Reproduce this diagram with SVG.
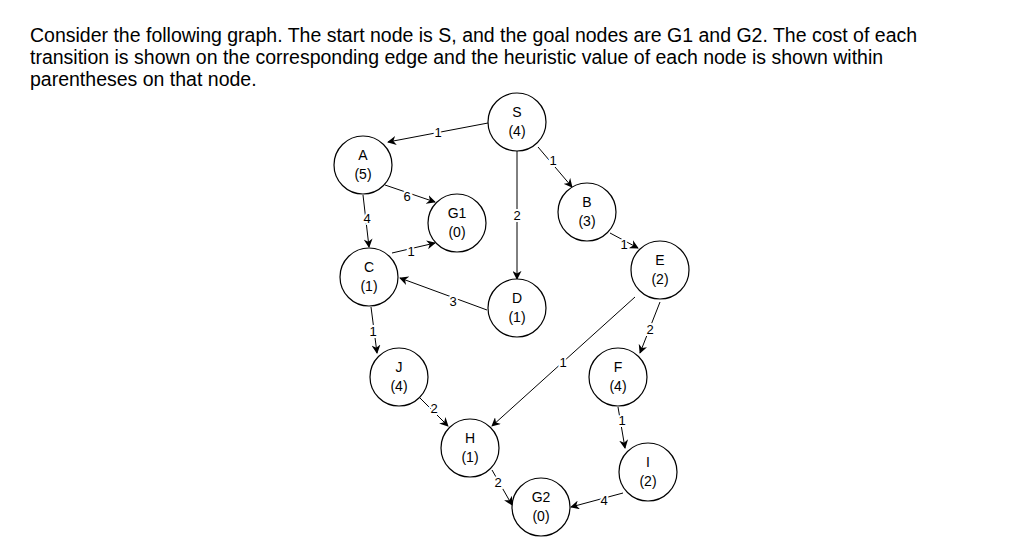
<svg xmlns="http://www.w3.org/2000/svg" width="1024" height="551" viewBox="0 0 1024 551">
<style>
.t{font-family:"Liberation Sans",Arial,sans-serif;font-size:19.5px;fill:#000}
.n circle{fill:#fff;stroke:#000;stroke-width:1.2}
.n text{font-family:"Liberation Sans",Arial,sans-serif;font-size:14px;text-anchor:middle;fill:#000}
#edges line{stroke:#000;stroke-width:1}
.l{font-family:"Liberation Sans",Arial,sans-serif;font-size:13px;text-anchor:middle;fill:#000;stroke:#fff;stroke-width:4;paint-order:stroke}
</style>
<defs><marker id="ar" viewBox="0 0 10 10" refX="9" refY="5" markerWidth="9" markerHeight="9" markerUnits="userSpaceOnUse" orient="auto"><path d="M0,0 L10,5 L0,10 L3,5 z" fill="#000"/></marker></defs>
<rect width="1024" height="551" fill="#fff"/>
<text class="t" x="30" y="42">Consider the following graph. The start node is S, and the goal nodes are G1 and G2. The cost of each</text>
<text class="t" x="30" y="64">transition is shown on the corresponding edge and the heuristic value of each node is shown within</text>
<text class="t" x="30" y="86">parentheses on that node.</text>
<g id="edges">
<line x1="488" y1="123" x2="388" y2="142" marker-end="url(#ar)"/>
<line x1="538" y1="147" x2="572" y2="187" marker-end="url(#ar)"/>
<line x1="517" y1="151" x2="517" y2="279" marker-end="url(#ar)"/>
<line x1="363" y1="195" x2="369" y2="247" marker-end="url(#ar)"/>
<line x1="385" y1="185" x2="435" y2="202" marker-end="url(#ar)"/>
<line x1="392" y1="253" x2="435" y2="243" marker-end="url(#ar)"/>
<line x1="487" y1="310" x2="400" y2="278" marker-end="url(#ar)"/>
<line x1="610" y1="233" x2="638" y2="248" marker-end="url(#ar)"/>
<line x1="660" y1="302" x2="640" y2="353" marker-end="url(#ar)"/>
<line x1="635" y1="297" x2="492" y2="426" marker-end="url(#ar)"/>
<line x1="371" y1="307" x2="377" y2="353" marker-end="url(#ar)"/>
<line x1="420" y1="398" x2="448" y2="426" marker-end="url(#ar)"/>
<line x1="618" y1="407" x2="625" y2="448" marker-end="url(#ar)"/>
<line x1="492" y1="470" x2="512" y2="505" marker-end="url(#ar)"/>
<line x1="623" y1="493" x2="571" y2="507" marker-end="url(#ar)"/>
<text class="l" x="438" y="137">1</text>
<text class="l" x="553" y="165">1</text>
<text class="l" x="517" y="220">2</text>
<text class="l" x="367" y="223">4</text>
<text class="l" x="407" y="201">6</text>
<text class="l" x="411" y="256">1</text>
<text class="l" x="453" y="306">3</text>
<text class="l" x="624" y="249">1</text>
<text class="l" x="650" y="334">2</text>
<text class="l" x="563" y="367">1</text>
<text class="l" x="373" y="336">1</text>
<text class="l" x="434" y="413">2</text>
<text class="l" x="622" y="425">1</text>
<text class="l" x="498" y="487">2</text>
<text class="l" x="604" y="505">4</text>
</g>
<g id="S" class="n"><circle cx="517" cy="122" r="29"/><text x="517" y="117">S</text><text x="517" y="136">(4)</text></g>
<g id="A" class="n"><circle cx="363" cy="165" r="29"/><text x="363" y="160">A</text><text x="363" y="179">(5)</text></g>
<g id="G1" class="n"><circle cx="457" cy="223" r="29"/><text x="457" y="218">G1</text><text x="457" y="237">(0)</text></g>
<g id="B" class="n"><circle cx="587" cy="212" r="29"/><text x="587" y="207">B</text><text x="587" y="226">(3)</text></g>
<g id="C" class="n"><circle cx="369" cy="277" r="29"/><text x="369" y="272">C</text><text x="369" y="291">(1)</text></g>
<g id="E" class="n"><circle cx="660" cy="270" r="29"/><text x="660" y="265">E</text><text x="660" y="284">(2)</text></g>
<g id="D" class="n"><circle cx="517" cy="308" r="29"/><text x="517" y="303">D</text><text x="517" y="322">(1)</text></g>
<g id="J" class="n"><circle cx="399" cy="377" r="29"/><text x="399" y="372">J</text><text x="399" y="391">(4)</text></g>
<g id="F" class="n"><circle cx="618" cy="377" r="29"/><text x="618" y="372">F</text><text x="618" y="391">(4)</text></g>
<g id="H" class="n"><circle cx="470" cy="448" r="29"/><text x="470" y="443">H</text><text x="470" y="462">(1)</text></g>
<g id="I" class="n"><circle cx="648" cy="472" r="29"/><text x="648" y="467">I</text><text x="648" y="486">(2)</text></g>
<g id="G2" class="n"><circle cx="541" cy="507" r="29"/><text x="541" y="502">G2</text><text x="541" y="521">(0)</text></g>
</svg>
